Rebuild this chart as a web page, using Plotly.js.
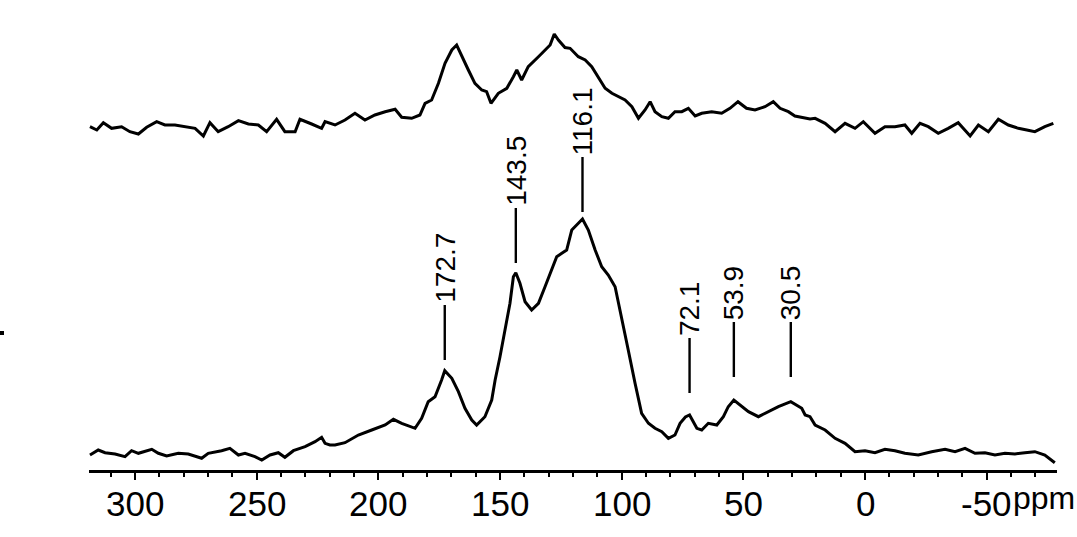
<!DOCTYPE html>
<html>
<head>
<meta charset="utf-8">
<script src="https://cdn.plot.ly/plotly-3.0.1.min.js"></script>
<style>html,body{margin:0;padding:0;background:#fff;}#chart{width:1077px;height:537px;}</style>
</head>
<body>
<div id="chart"></div>
<script>
// Lower spectrum: chemical shift (ppm) and intensity (a.u.)
const lowerPpm = [318.5,315.1,312.3,308.2,304.1,301.4,298.6,293.1,290.4,287.0,282.2,278.1,272.6,269.9,264.4,261.0,257.5,254.8,250.7,247.9,244.5,241.1,238.4,234.9,230.1,226.0,223.3,221.9,219.9,217.8,213.7,208.2,202.7,197.2,193.8,190.4,184.9,182.2,179.5,176.7,174.0,172.7,169.8,167.1,164.4,161.6,159.6,156.2,153.4,152.0,150.0,147.9,145.9,144.5,143.5,141.8,139.7,137.0,134.2,131.5,128.7,126.7,124.6,122.6,121.2,120.5,117.8,116.1,113.7,110.9,108.2,105.5,102.7,100.0,97.3,94.5,91.8,89.0,86.3,83.5,80.8,78.1,76.0,73.8,72.1,69.1,67.1,64.4,60.9,58.2,56.2,53.9,51.4,47.9,43.8,39.7,35.6,30.5,26.0,24.6,22.6,20.5,16.4,12.3,8.2,4.1,0.0,-4.1,-8.2,-12.3,-16.4,-21.9,-27.4,-32.9,-37.0,-41.1,-45.2,-49.3,-53.4,-57.5,-61.6,-65.7,-69.8,-73.9,-78.0];
const lowerInt = [0,5,2.3,1,-1.7,4.3,1.7,5.7,1.7,-1,1.7,1,-3.3,1.7,4.3,6.7,0,1.7,-1.7,-5,0,2.3,-2.3,4.3,8.3,13.3,17.7,11.7,10,10,12.3,20,25,30,35.7,31.7,26.7,36.7,53.3,58.3,75,84.3,76.7,63.3,46.7,35,30,38.3,55,75,98.3,125,151.7,178.3,182.3,171.7,153.3,145,151.7,168.3,185,198.3,201.7,205,218.3,225,231.7,236,225,205,188.3,180,168.3,135,105,71.7,41.7,31.7,26.7,23.3,16.7,20,31.7,38,40,26.7,25,31.7,30,38.3,48.3,55,50,43.3,38.3,43.3,48.3,53.3,46.7,40,38.3,30,25,16.7,11.7,3.3,4.3,2.3,5.7,4.3,1.7,0,3.3,5.7,3.3,6.7,1.7,2.3,0,1.7,1,2.3,3.3,0,-7.7];

// Upper spectrum: chemical shift (ppm) and intensity (a.u.)
const upperPpm = [318.5,315.7,313.0,309.6,305.5,302.1,298.6,295.2,291.1,287.7,283.6,279.5,275.3,271.9,269.2,265.8,261.7,257.5,253.4,249.3,245.9,241.8,238.4,234.2,232.2,227.4,223.3,221.9,219.9,217.8,213.7,209.6,205.5,201.4,197.2,193.1,190.4,186.3,182.9,180.8,178.1,175.3,172.6,169.8,167.8,165.7,163.0,160.3,157.5,155.5,153.7,150.7,147.2,144.5,143.1,141.1,138.4,134.2,131.5,129.4,127.7,126.0,123.3,121.2,117.8,115.0,112.3,109.6,106.8,104.0,101.3,98.6,95.8,93.1,90.4,88.3,86.3,83.5,80.8,78.1,75.3,72.6,69.8,67.1,63.0,58.9,55.5,52.2,48.7,45.2,41.1,37.7,34.9,31.5,28.8,26.0,22.6,20.5,16.4,12.3,8.2,4.1,0.7,-4.1,-8.2,-12.3,-16.4,-19.2,-22.6,-26.0,-30.1,-34.2,-38.3,-43.2,-46.6,-50.7,-54.8,-58.9,-63.0,-66.5,-69.8,-73.9,-77.4];
const upperInt = [1.3,-2,5.3,-0.3,1.3,-3.7,-6,0.7,6.3,3,3,1.3,-0.3,-8,5.3,-3.7,1.3,7.3,4,3,-3.7,8.7,-3.7,-3.7,8.7,4,-0.3,6.3,4.7,3,8,14.7,8,13,16.3,18.7,10.7,9.7,13,24.7,28,44.7,64.7,78,83,71.3,58,44.7,38,36.3,24.7,34.7,39.7,51.3,58,48,61.3,71.3,78,83,94,88,80.5,79.7,71.3,68,61.3,51.3,39.7,34.7,31.3,28,21.3,9.7,18,26.3,16.3,11.3,9.7,16.3,16.3,19.7,12,14.7,16.3,14.7,19.7,26.3,19.7,18,21.3,26.3,19.7,16.3,12,10.7,9,9.7,4.7,-3.7,4.7,-0.3,6.3,-5.3,1.3,1.3,3,-5.3,4.7,1.3,-5.3,-0.3,5.3,-8,3,-3.7,8.7,3,-0.3,-2,-3.7,1.3,4.7];

// Peak labels (ppm)
const peakLabels = ["172.7","143.5","116.1","72.1","53.9","30.5"];
const peakPpm = [172.7, 143.5, 116.1, 72.1, 53.9, 30.5];

// Axis ticks
const tickVals = [300,250,200,150,100,50,0,-50];
const tickText = ["300","250","200","150","100","50","0","-50"];
const axisUnit = "ppm";

// ---- layout constants (positions/styles) ----
const upperOffset = 327;
const markerBase = [95, 192, 243, 62, 78, 78];
const markerLen = 55;
const FONT = 'Liberation Sans, Arial, sans-serif';

const traces = [
  {x: lowerPpm, y: lowerInt, type: 'scatter', mode: 'lines',
   line: {color: '#000', width: 3}, hoverinfo: 'skip'},
  {x: upperPpm, y: upperInt.map(v => v + upperOffset), type: 'scatter', mode: 'lines',
   line: {color: '#000', width: 3}, hoverinfo: 'skip'}
];

const shapes = peakPpm.map((p, i) => ({
  type: 'line', xref: 'x', yref: 'y', x0: p, x1: p,
  y0: markerBase[i], y1: markerBase[i] + markerLen,
  line: {color: '#000', width: 2.4}
}));
shapes.push({type: 'rect', xref: 'paper', yref: 'y', x0: -0.092, x1: -0.0878, y0: 120, y1: 124,
  fillcolor: '#000', line: {width: 0}});

const annotations = peakPpm.map((p, i) => ({
  x: p, y: markerBase[i] + markerLen, xref: 'x', yref: 'y',
  text: peakLabels[i], textangle: -90, showarrow: false,
  xanchor: 'center', yanchor: 'bottom', yshift: 1, borderpad: 0,
  font: {family: FONT, size: 28, color: '#000'}
}));
tickVals.forEach((v, i) => annotations.push({
  x: v, y: 0, xref: 'x', yref: 'paper', text: tickText[i], showarrow: false,
  xanchor: 'center', yanchor: 'middle', yshift: -33, borderpad: 0,
  font: {family: FONT, size: 35, color: '#000'}
}));
annotations.push({
  x: -50, y: 0, xref: 'x', yref: 'paper', text: axisUnit, showarrow: false,
  xanchor: 'left', yanchor: 'middle', xshift: 25, yshift: -28, borderpad: 0,
  font: {family: FONT, size: 32, color: '#000'}
});

const layout = {
  width: 1077, height: 537,
  margin: {l: 89, r: 20, t: 0, b: 67, pad: 0},
  paper_bgcolor: '#fff', plot_bgcolor: '#fff',
  showlegend: false,
  xaxis: {
    range: [318.9, -78.9], autorange: false,
    showline: true, linecolor: '#000', linewidth: 2.5,
    showgrid: false, zeroline: false,
    ticks: 'outside', ticklen: 7, tickwidth: 2, tickcolor: '#000',
    tickvals: tickVals, showticklabels: false,
    minor: {dtick: 10, tick0: 0, ticks: 'outside', ticklen: 4, tickwidth: 2, tickcolor: '#000', showgrid: false}
  },
  yaxis: {
    range: [-15, 455], autorange: false,
    visible: false, showgrid: false, zeroline: false
  },
  shapes: shapes,
  annotations: annotations
};

Plotly.newPlot('chart', traces, layout, {staticPlot: true, displayModeBar: false});
</script>
</body>
</html>
